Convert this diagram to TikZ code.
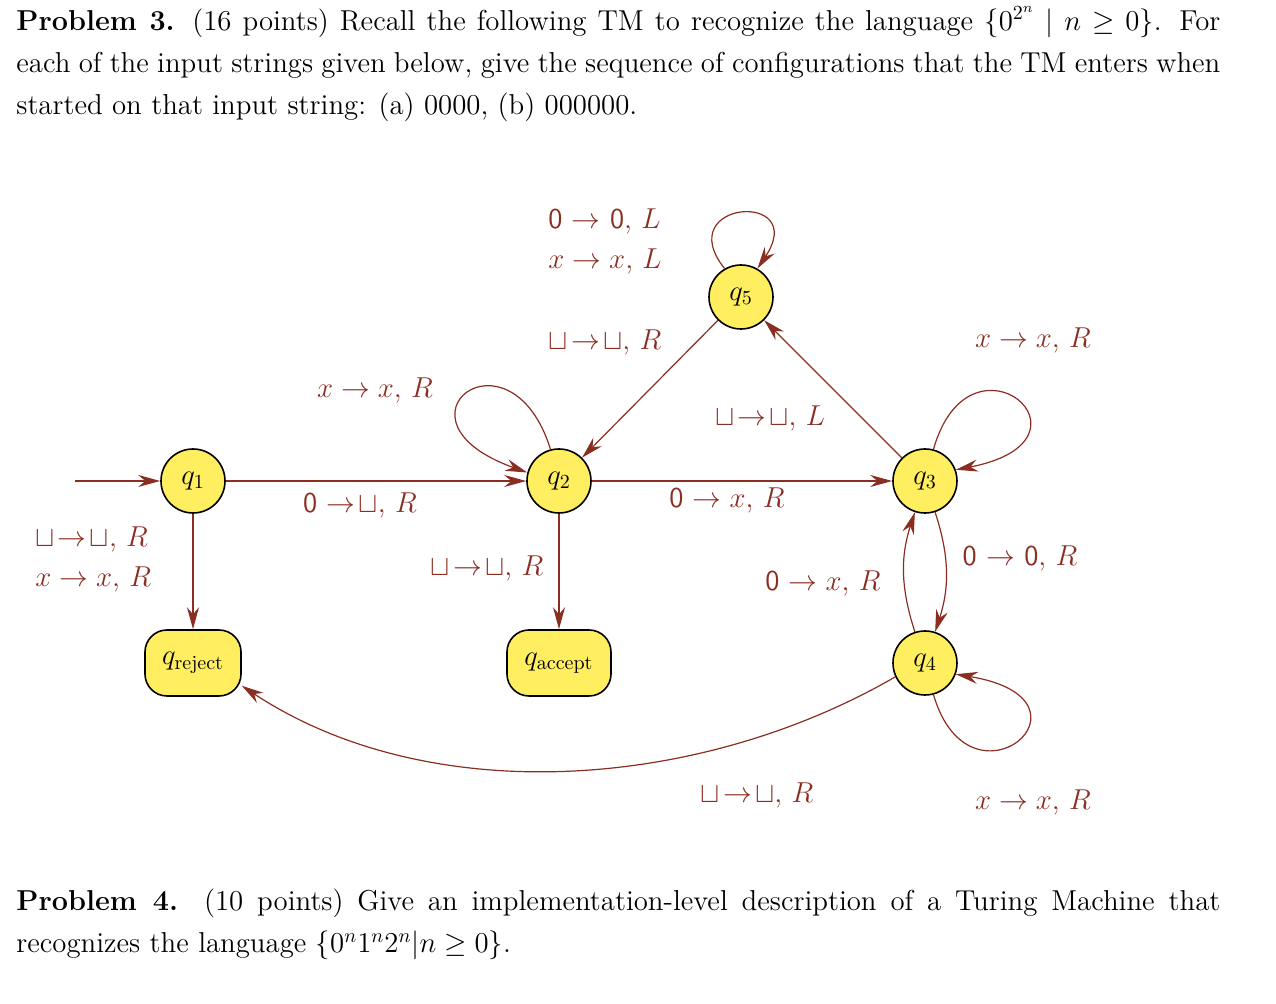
\documentclass[tikz,border=0pt]{standalone}
\usepackage{amsmath,amssymb}
\usetikzlibrary{arrows.meta}
\definecolor{ar}{HTML}{8B2E22}
\definecolor{fy}{HTML}{FFEF60}
\begin{document}
\begin{tikzpicture}[x=0.5pt,y=-0.5pt,
  st/.style={circle,draw=black,line width=0.8pt,fill=fy,minimum size=32pt,inner sep=0pt,font=\fontsize{14.4}{16}\selectfont},
  hs/.style={rounded corners=11pt,draw=black,line width=0.8pt,fill=fy,minimum height=33pt,inner sep=2pt,font=\fontsize{14.4}{16}\selectfont},
  tr/.style={draw=ar,line width=0.6pt,-{Stealth[length=11pt,width=6pt]}},
  lb/.style={text=ar,font=\fontsize{14.4}{20}\selectfont,inner sep=0pt,align=left}]
\useasboundingbox (0,0) rectangle (1276,1004);
\node[anchor=north west,text width=602pt,align=justify,inner sep=0pt,font=\fontsize{14.4}{21}\selectfont] (t1) at (16,6)
{\textbf{Problem 3.} (16 points) Recall the following TM to recognize the language $\{0^{2^n}\mid n\ge 0\}$. For each of the input strings given below, give the sequence of configurations that the TM enters when started on that input string: (a) 0000, (b) 000000.};
\node[anchor=north west,text width=602pt,align=justify,inner sep=0pt,font=\fontsize{14.4}{21}\selectfont] (t2) at (16,889)
{\textbf{Problem 4.} (10 points) Give an implementation-level description of a Turing Machine that recognizes the language $\{0^n1^n2^n | n\ge 0\}$.};

\node[st] (q1) at (193,481) {$q_1$};
\node[st] (q2) at (559,481) {$q_2$};
\node[st] (q3) at (925,481) {$q_3$};
\node[st] (q5) at (741,297) {$q_5$};
\node[st] (q4) at (925,663) {$q_4$};
\node[hs,minimum width=48pt] (qr) at (193,663) {$q_{\text{reject}}$};
\node[hs,minimum width=52pt] (qa) at (559,663) {$q_{\text{accept}}$};
\coordinate (s) at (75,481);

\draw[tr] (s) -- (q1);
\draw[tr] (q1) -- (q2);
\draw[tr] (q2) -- (q3);
\draw[tr] (q1) -- (qr);
\draw[tr] (q2) -- (qa);
\draw[tr] (q5) -- (q2);
\draw[tr] (q3) -- (q5);
\draw[tr] (q3) to[bend left=18] (q4);
\draw[tr] (q4) to[bend left=18] (q3);
\draw[tr] (q4.205) .. controls (700,790) and (430,810) .. (qr.-25);
\draw[tr] (q5.120) .. controls (670,200) and (810,190) .. (q5.60);
\draw[tr] (q2.105) .. controls (510,320) and (380,420) .. (q2.165);
\draw[tr] (q3.75) .. controls (970,320) and (1110,440) .. (q3.20);
\draw[tr] (q4.-75) .. controls (970,820) and (1110,700) .. (q4.-20);

\node[lb,anchor=west] (l1) at (548,241) {\textsf{0} $\rightarrow$ \textsf{0}, $L$\\ $x\rightarrow x$, $L$};
\node[lb] (l2) at (605,342) {$\sqcup\!\rightarrow\!\sqcup$, $R$};
\node[lb] (l3) at (375,390) {$x\rightarrow x$, $R$};
\node[lb] (l4) at (770,418) {$\sqcup\!\rightarrow\!\sqcup$, $L$};
\node[lb] (l5) at (1033,340) {$x\rightarrow x$, $R$};
\node[lb] (l6) at (360,505) {\textsf{0} $\rightarrow\!\sqcup$, $R$};
\node[lb] (l7) at (727,500) {\textsf{0} $\rightarrow x$, $R$};
\node[lb,anchor=west] (l8) at (35,559) {$\sqcup\!\rightarrow\!\sqcup$, $R$\\ $x\rightarrow x$, $R$};
\node[lb] (l9) at (487,568) {$\sqcup\!\rightarrow\!\sqcup$, $R$};
\node[lb] (l10) at (1020,558) {\textsf{0} $\rightarrow$ \textsf{0}, $R$};
\node[lb] (l11) at (823,583) {\textsf{0} $\rightarrow x$, $R$};
\node[lb] (l12) at (757,795) {$\sqcup\!\rightarrow\!\sqcup$, $R$};
\node[lb] (l13) at (1033,802) {$x\rightarrow x$, $R$};
\end{tikzpicture}
\end{document}
